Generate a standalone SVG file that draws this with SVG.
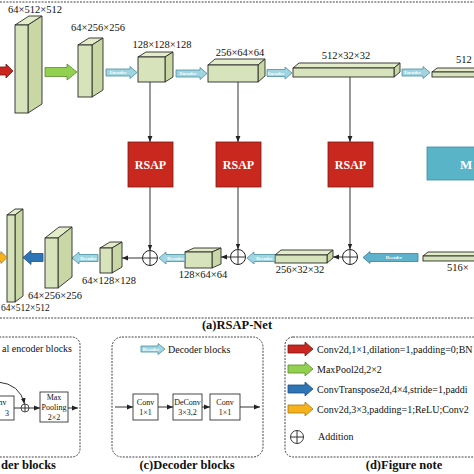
<svg xmlns="http://www.w3.org/2000/svg" width="474" height="474" viewBox="0 0 474 474">
<defs>
<marker id="ah" viewBox="0 0 10 10" refX="10" refY="5" markerWidth="6" markerHeight="6" markerUnits="userSpaceOnUse" orient="auto"><path d="M0,1 L10,5 L0,9 Z" fill="#222"/></marker>
<style>
.t{font-family:"Liberation Serif","Times New Roman",serif;fill:#111}
.lb{font-size:10.5px;text-anchor:middle}
.fr{fill:#d7e3bb;stroke:#2b2b2b;stroke-width:0.9}
.tp{fill:#e3ecc9;stroke:#2b2b2b;stroke-width:0.9}
.sd{fill:#c9d7a4;stroke:#2b2b2b;stroke-width:0.9}
.enc{fill:#9fd4e0;stroke:#4a8ea0;stroke-width:0.8}
.dec{fill:#9fd6e2;stroke:#4a8ea0;stroke-width:0.8}
.decd{fill:#5eb2cc;stroke:#3b7f97;stroke-width:0.8}
.at{font-family:"Liberation Serif",serif;font-size:4.6px;fill:#fff;text-anchor:middle;font-weight:bold}
.red{fill:#c8261e;stroke:#7a1410;stroke-width:0.8}
.grn{fill:#92d050;stroke:#5a8a2a;stroke-width:0.8}
.blu{fill:#2e75b6;stroke:#1d4f80;stroke-width:0.8}
.org{fill:#f6b21c;stroke:#a8780f;stroke-width:0.8}
.rsap{fill:#c8281e;stroke:#7a1a12;stroke-width:0.8}
.rt{font-family:"Liberation Serif",serif;font-size:12px;font-weight:bold;fill:#fff;text-anchor:middle}
.ln{stroke:#333;stroke-width:1;fill:none}
.dash{stroke:#444;stroke-width:1;fill:none;stroke-dasharray:2,1.2}
.box{fill:#fff;stroke:#333;stroke-width:0.9}
.bt{font-family:"Liberation Serif",serif;font-size:8px;fill:#111;text-anchor:middle}
.lg{font-family:"Liberation Serif",serif;font-size:10px;fill:#111}
.cap{font-family:"Liberation Serif",serif;font-size:12.5px;font-weight:bold;fill:#111}
</style>
</defs>
<line class="dash" x1="0" y1="2" x2="474" y2="2"/>
<line class="dash" x1="0" y1="318" x2="474" y2="318"/>

<g id="arrow-in-red"><path class="red" d="M-5,67 L6,67 L6,64 L13,71 L6,78 L6,75 L-5,75 Z"/></g>
<g id="enc-block-1">
<path class="tp" d="M15,25 L29,16 L42,16 L28,25 Z"/><path class="sd" d="M28,25 L42,16 L42,104 L28,113 Z"/><rect class="fr" x="15" y="25" width="13" height="88"/>
<text class="t lb" x="35" y="13">64×512×512</text></g>
<g id="arrow-maxpool"><path class="grn" d="M45,67.5 L67,67.5 L67,64 L77,72 L67,80 L67,76.5 L45,76.5 Z"/></g>
<g id="enc-block-2">
<path class="tp" d="M78,45 L89,38 L103,38 L92,45 Z"/><path class="sd" d="M92,45 L103,38 L103,90 L92,97 Z"/><rect class="fr" x="78" y="45" width="14" height="52"/>
<text class="t lb" x="98" y="31">64×256×256</text></g>
<g id="encoder-1"><path class="enc" d="M106,69 L130,69 L130,66.5 L137,72.5 L130,78.5 L130,76 L106,76 Z"/><text class="at" x="118" y="74.2">Encoder</text></g>
<g id="enc-block-3">
<path class="tp" d="M138,57 L146,52 L173,52 L165,57 Z"/><path class="sd" d="M165,57 L173,52 L173,77 L165,82 Z"/><rect class="fr" x="138" y="57" width="27" height="25"/>
<text class="t lb" x="162" y="48">128×128×128</text></g>
<g id="encoder-2"><path class="enc" d="M176,70 L200,70 L200,67.5 L207,73.5 L200,79.5 L200,77 L176,77 Z"/><text class="at" x="188" y="75.2">Encoder</text></g>
<g id="enc-block-4">
<path class="tp" d="M208,65 L215,59 L265,59 L258,65 Z"/><path class="sd" d="M258,65 L265,59 L265,76 L258,82 Z"/><rect class="fr" x="208" y="65" width="50" height="17"/>
<text class="t lb" x="240" y="56">256×64×64</text></g>
<g id="encoder-3"><path class="enc" d="M267,69.5 L285,69.5 L285,67 L292,73 L285,79 L285,76.5 L267,76.5 Z"/><text class="at" x="276" y="74.7">Encoder</text></g>
<g id="enc-block-5">
<path class="tp" d="M293,68 L299,63 L400,63 L394,68 Z"/><path class="sd" d="M394,68 L400,63 L400,72 L394,77 Z"/><rect class="fr" x="293" y="68" width="101" height="9"/>
<text class="t lb" x="346" y="59">512×32×32</text></g>
<g id="encoder-4"><path class="enc" d="M402,69 L423,69 L423,66.5 L430,72.5 L423,78.5 L423,76 L402,76 Z"/><text class="at" x="412.5" y="74.2">Encoder</text></g>
<g id="enc-block-6">
<path class="tp" d="M432,72 L437,68 L497,68 L492,72 Z"/><rect class="fr" x="432" y="72" width="60" height="5"/>
<text class="t" x="456" y="63" font-size="10.5">512</text></g>

<g id="rsap-1"><rect class="rsap" x="128" y="142" width="45" height="45"/><text class="rt" x="150.5" y="168.5">RSAP</text></g>
<g id="rsap-2"><rect class="rsap" x="216" y="142" width="45" height="45"/><text class="rt" x="238.5" y="168.5">RSAP</text></g>
<g id="rsap-3"><rect class="rsap" x="328" y="142" width="45" height="45"/><text class="rt" x="350.5" y="168.5">RSAP</text></g>
<g id="m-block"><rect x="427" y="147" width="60" height="33" fill="#5ab4c8" stroke="#3a8aa0" stroke-width="0.8"/><text x="460" y="169" font-family="Liberation Serif,serif" font-size="13" font-weight="bold" fill="#fff">M</text></g>

<g id="dec-block-6">
<path class="tp" d="M423,256 L428,252 L488,252 L483,256 Z"/><rect class="fr" x="423" y="256" width="60" height="5"/>
<text class="t" x="447" y="271" font-size="10.5">516×</text></g>
<g id="decoder-1"><path class="decd" d="M418,253.5 L370,253.5 L370,251.5 L363,257.5 L370,263.5 L370,261.5 L418,261.5 Z"/><text class="at" x="394" y="259.3">Decoder</text></g>
<g id="add-3"><circle cx="350" cy="257" r="7.5" fill="#fff" stroke="#222" stroke-width="1"/><path class="ln" d="M342.5,257 H357.5 M350,249.5 V264.5"/></g>
<g id="dec-block-5">
<path class="tp" d="M275,255 L281,250 L333,250 L327,255 Z"/><path class="sd" d="M327,255 L333,250 L333,258 L327,263 Z"/><rect class="fr" x="275" y="255" width="52" height="8"/>
<text class="t lb" x="300" y="273">256×32×32</text></g>
<g id="decoder-2"><path class="dec" d="M275,254.5 L254,254.5 L254,252 L247,258 L254,264 L254,261.5 L275,261.5 Z"/><text class="at" x="264.5" y="259.7">Decoder</text></g>
<g id="add-2"><circle cx="238" cy="257" r="7.5" fill="#fff" stroke="#222" stroke-width="1"/><path class="ln" d="M230.5,257 H245.5 M238,249.5 V264.5"/></g>
<g id="dec-block-4">
<path class="tp" d="M185,252 L194,248 L221,248 L212,252 Z"/><path class="sd" d="M212,252 L221,248 L221,264 L212,268 Z"/><rect class="fr" x="185" y="252" width="27" height="16"/>
<text class="t lb" x="203" y="278">128×64×64</text></g>
<g id="decoder-3"><path class="dec" d="M185,254.5 L166,254.5 L166,252 L159,258 L166,264 L166,261.5 L185,261.5 Z"/><text class="at" x="175.5" y="259.7">Decoder</text></g>
<g id="add-1"><circle cx="150" cy="258" r="7.5" fill="#fff" stroke="#222" stroke-width="1"/><path class="ln" d="M142.5,258 H157.5 M150,250.5 V265.5"/></g>
<g id="dec-block-3">
<path class="tp" d="M100,248 L110,242 L122,242 L112,248 Z"/><path class="sd" d="M112,248 L122,242 L122,267 L112,273 Z"/><rect class="fr" x="100" y="248" width="12" height="25"/>
<text class="t lb" x="109" y="284">64×128×128</text></g>
<g id="decoder-4"><path class="dec" d="M98,254.5 L79,254.5 L79,252 L72,258 L79,264 L79,261.5 L98,261.5 Z"/><text class="at" x="88.5" y="259.7">Decoder</text></g>
<g id="dec-block-2">
<path class="tp" d="M45,238 L59,227 L72,227 L58,238 Z"/><path class="sd" d="M58,238 L72,227 L72,277 L58,288 Z"/><rect class="fr" x="45" y="238" width="13" height="50"/>
<text class="t lb" x="55" y="299">64×256×256</text></g>
<g id="arrow-convtranspose"><path class="blu" d="M43,253.5 L31,253.5 L31,250.5 L23,257.5 L31,264.5 L31,261.5 L43,261.5 Z"/></g>
<g id="dec-block-1">
<path class="tp" d="M7,215 L15,209 L23,209 L15,215 Z"/><path class="sd" d="M15,215 L23,209 L23,296 L15,302 Z"/><rect class="fr" x="7" y="215" width="8" height="87"/>
<text class="t" x="1" y="311" font-size="9.5">64×512×512</text></g>
<g id="arrow-out-orange"><path class="org" d="M-5,253.5 L1,253.5 L1,251.5 L7,257.5 L1,263.5 L1,261.5 L-5,261.5 Z"/></g>

<g id="connectors">
<line class="ln" x1="150" y1="82" x2="150" y2="142" marker-end="url(#ah)"/>
<line class="ln" x1="238" y1="82" x2="238" y2="142" marker-end="url(#ah)"/>
<line class="ln" x1="350" y1="77" x2="350" y2="142" marker-end="url(#ah)"/>
<line class="ln" x1="150" y1="187" x2="150" y2="250.5" marker-end="url(#ah)"/>
<line class="ln" x1="238" y1="187" x2="238" y2="249.5" marker-end="url(#ah)"/>
<line class="ln" x1="350" y1="187" x2="350" y2="249.5" marker-end="url(#ah)"/>
<line class="ln" x1="142.5" y1="258" x2="122" y2="258" marker-end="url(#ah)"/>
<line class="ln" x1="230.5" y1="257" x2="221" y2="257" marker-end="url(#ah)"/>
<line class="ln" x1="342.5" y1="257" x2="333" y2="257" marker-end="url(#ah)"/>
</g>

<text class="cap" x="237" y="329" text-anchor="middle">(a)RSAP-Net</text>

<g id="legend-encoder">
<rect class="dash" x="-12" y="337" width="92" height="120" rx="8"/>
<text class="lg" x="2" y="352">al encoder blocks</text>
<rect class="box" x="-10" y="396" width="24" height="24"/>
<text class="bt" x="2.5" y="405" text-anchor="start">nv</text><text class="bt" x="7" y="416" text-anchor="start">3</text>
<circle cx="25" cy="408" r="4" fill="#fff" stroke="#222" stroke-width="0.8"/><path class="ln" d="M21,408 H29 M25,404 V412" stroke-width="0.8"/>
<rect class="box" x="40" y="392" width="28" height="30"/>
<text class="bt" x="54" y="400" font-size="7.5">Max</text><text class="bt" x="54" y="410" font-size="7.5">Pooling</text><text class="bt" x="54" y="419.5" font-size="7.5">2×2</text>
<path class="ln" d="M14,408 H21" stroke-width="0.8"/>
<path class="ln" d="M29,408 H40" stroke-width="0.8" marker-end="url(#ah)"/>
<path class="ln" d="M68,408 H78" stroke-width="0.8" marker-end="url(#ah)"/>
<path class="ln" d="M-2,382 Q20,384 24.5,404" stroke-width="0.8" marker-end="url(#ah)"/>
<text class="cap" x="1" y="469">der blocks</text>
</g>

<g id="legend-decoder">
<rect class="dash" x="112" y="337" width="151" height="120" rx="10"/>
<path class="dec" d="M141,346 L158,346 L158,343.5 L165,349 L158,354.5 L158,352 L141,352 Z"/><text class="at" x="151" y="350.5" font-size="4">Decoder</text>
<text class="lg" x="168" y="353" font-size="10.5">Decoder blocks</text>
<rect class="box" x="133" y="394" width="25" height="26"/><text class="bt" x="145.5" y="404.5">Conv</text><text class="bt" x="145.5" y="415">1×1</text>
<rect class="box" x="173" y="394" width="29" height="26"/><text class="bt" x="187.5" y="404.5">DeConv</text><text class="bt" x="187.5" y="415">3×3,2</text>
<rect class="box" x="210" y="394" width="30" height="26"/><text class="bt" x="225" y="404.5">Conv</text><text class="bt" x="225" y="415">1×1</text>
<path class="ln" d="M115,407 H133" stroke-width="0.8" marker-end="url(#ah)"/>
<path class="ln" d="M158,407 H173" stroke-width="0.8" marker-end="url(#ah)"/>
<path class="ln" d="M202,407 H210" stroke-width="0.8" marker-end="url(#ah)"/>
<path class="ln" d="M240,407 H260" stroke-width="0.8" marker-end="url(#ah)"/>
<text class="cap" x="187" y="469" text-anchor="middle">(c)Decoder blocks</text>
</g>

<g id="legend-note">
<rect class="dash" x="285" y="337" width="200" height="120" rx="8"/>
<path class="red" d="M288,345 L305,345 L305,342 L313,349 L305,356 L305,353 L288,353 Z"/>
<text class="lg" x="317" y="352.5" font-size="9.8">Conv2d,1×1,dilation=1,padding=0;BN</text>
<path class="grn" d="M288,365 L305,365 L305,362 L313,369 L305,376 L305,373 L288,373 Z"/>
<text class="lg" x="317" y="372.5">MaxPool2d,2×2</text>
<path class="blu" d="M288,385 L305,385 L305,382 L313,389 L305,396 L305,393 L288,393 Z"/>
<text class="lg" x="317" y="392.5">ConvTranspose2d,4×4,stride=1,paddi</text>
<path class="org" d="M288,405 L305,405 L305,402 L313,409 L305,416 L305,413 L288,413 Z"/>
<text class="lg" x="317" y="412.5">Conv2d,3×3,padding=1;ReLU;Conv2</text>
<circle cx="297" cy="437" r="6.5" fill="#fff" stroke="#222" stroke-width="0.9"/><path class="ln" d="M290.5,437 H303.5 M297,430.5 V443.5" stroke-width="0.9"/>
<text class="lg" x="318" y="440" font-size="9">Addition</text>
<text class="cap" x="404" y="469" text-anchor="middle">(d)Figure note</text>
</g>
</svg>
